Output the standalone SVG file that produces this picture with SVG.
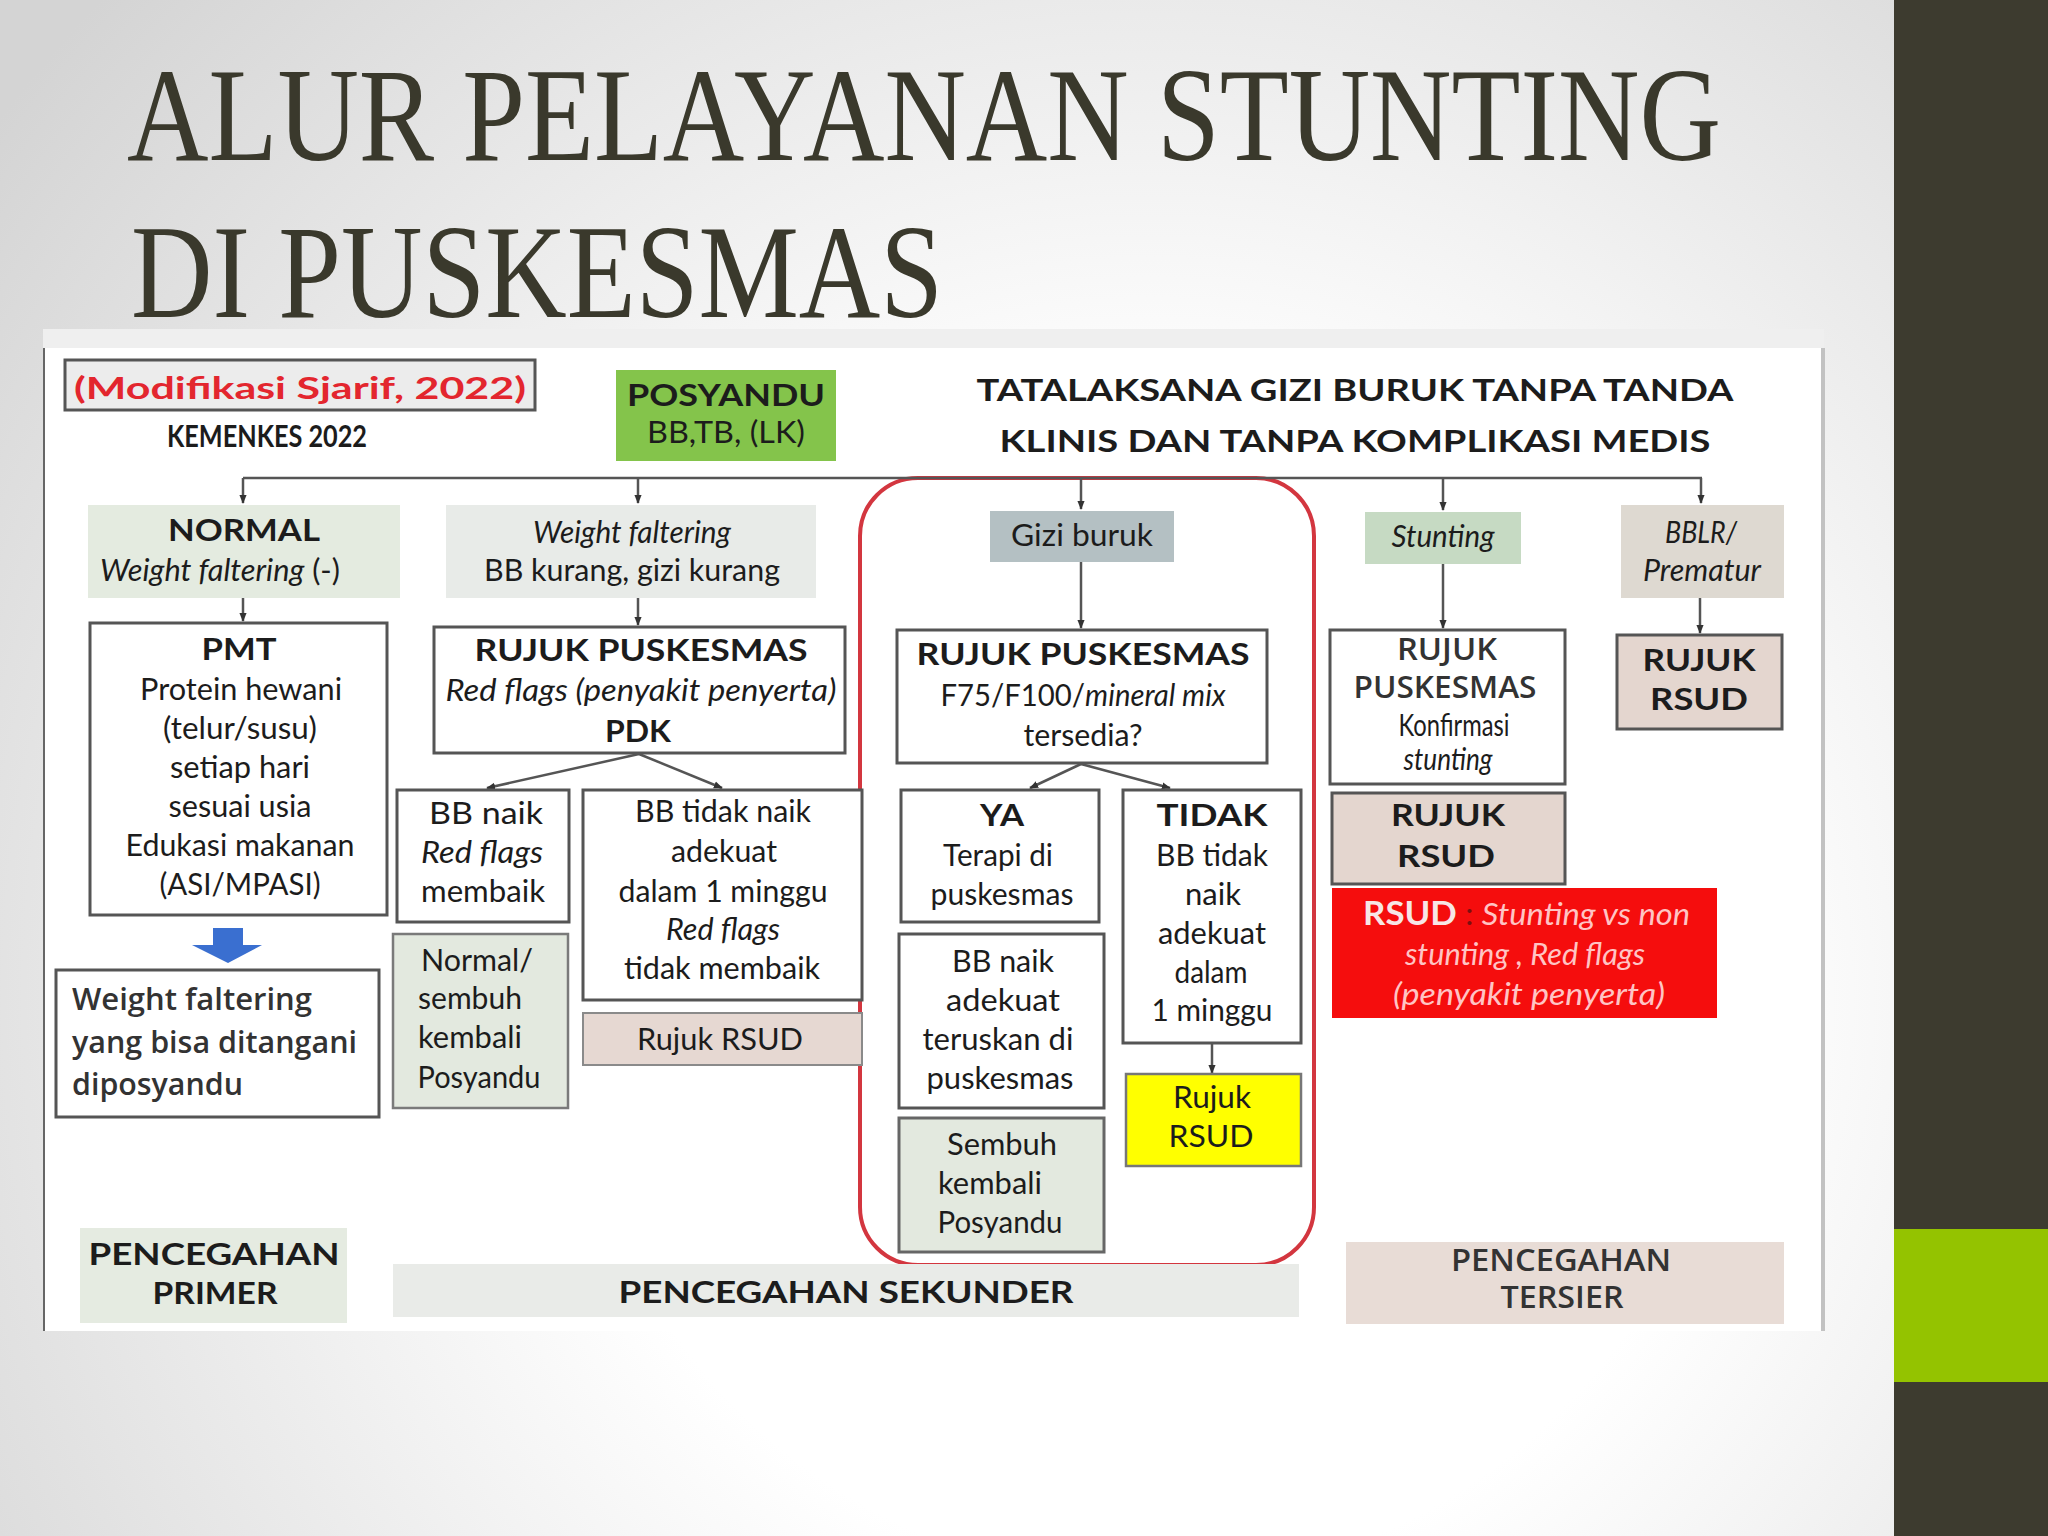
<svg xmlns="http://www.w3.org/2000/svg" width="2048" height="1536" viewBox="0 0 2048 1536">
<defs>
<radialGradient id="bg" cx="1150" cy="1000" r="1450" gradientUnits="userSpaceOnUse">
<stop offset="0.4" stop-color="#ffffff"/>
<stop offset="1" stop-color="#d4d4d4"/>
</radialGradient>
<marker id="ah" viewBox="0 0 10 10" refX="9" refY="5" markerWidth="9" markerHeight="9" markerUnits="userSpaceOnUse" orient="auto">
<path d="M0,1 L10,5 L0,9 z" fill="#333"/>
</marker>
<style>
.t{font-family:Lato,"Open Sans","Liberation Sans",sans-serif;font-size:30px;fill:#1c1c1c;text-anchor:middle}
.b{font-weight:700}
.i{font-style:italic}
.o{font-family:"Open Sans","Liberation Sans",sans-serif;font-weight:600;fill:#333}
.box{stroke:#555;stroke-width:3}
.wb{fill:#ffffff}
.conn{stroke:#555;stroke-width:2.5;fill:none}
.title{font-family:"Liberation Serif","Times New Roman",serif;font-size:133px;fill:#3a392c}
</style>
</defs>
<rect x="0" y="0" width="2048" height="1536" fill="url(#bg)"/>
<rect x="1894" y="0" width="154" height="1536" fill="#3d3b2f"/>
<rect x="1894" y="1229" width="154" height="153" fill="#94c300"/>

<g id="title">
<text class="title" x="127" y="160" textLength="1594" lengthAdjust="spacingAndGlyphs">ALUR PELAYANAN STUNTING</text>
<text class="title" x="131" y="317" textLength="812" lengthAdjust="spacingAndGlyphs">DI PUSKESMAS</text>
</g>

<g id="frame">
<rect x="43" y="329" width="1781" height="1002" fill="#ffffff"/>
<rect x="43" y="329" width="1781" height="19" fill="#efefef"/>
<line x1="44" y1="348" x2="44" y2="1331" stroke="#666" stroke-width="2"/>
<line x1="1823" y1="348" x2="1823" y2="1331" stroke="#c2c2c2" stroke-width="4"/>
</g>

<g id="red-frame">
<rect x="860" y="478" width="454" height="787" rx="58" ry="58" fill="none" stroke="#d3363f" stroke-width="4"/>
</g>

<g id="connectors">
<path class="conn" d="M243,478 H1702"/>
<path class="conn" d="M243,478 V503" marker-end="url(#ah)"/>
<path class="conn" d="M638,478 V503" marker-end="url(#ah)"/>
<path class="conn" d="M1081,478 V509" marker-end="url(#ah)"/>
<path class="conn" d="M1443,478 V510" marker-end="url(#ah)"/>
<path class="conn" d="M1701,478 V503" marker-end="url(#ah)"/>
<path class="conn" d="M243,598 V621" marker-end="url(#ah)"/>
<path class="conn" d="M638,598 V625" marker-end="url(#ah)"/>
<path class="conn" d="M639,754 L487,788" marker-end="url(#ah)"/>
<path class="conn" d="M639,754 L722,788" marker-end="url(#ah)"/>
<path class="conn" d="M1081,562 V628" marker-end="url(#ah)"/>
<path class="conn" d="M1081,764 L1030,788" marker-end="url(#ah)"/>
<path class="conn" d="M1081,764 L1170,788" marker-end="url(#ah)"/>
<path class="conn" d="M1443,564 V628" marker-end="url(#ah)"/>
<path class="conn" d="M1700,598 V633" marker-end="url(#ah)"/>
<path class="conn" d="M1212,1043 V1073" marker-end="url(#ah)"/>
<path d="M213,928 H243 V945 H262 L228,963 L192,945 H213 Z" fill="#3a6fd0"/>
</g>

<g id="modifikasi">
<rect class="box" x="65" y="360" width="470" height="50" fill="#ececec"/>
<text class="t b" x="300" y="399" font-size="40" textLength="452" lengthAdjust="spacingAndGlyphs" style="fill:#e3262e">(Modifikasi Sjarif, 2022)</text>
</g>
<g id="kemenkes">
<text class="t b" x="267" y="447" font-size="25" textLength="200" lengthAdjust="spacingAndGlyphs">KEMENKES 2022</text>
</g>
<g id="posyandu">
<rect x="616" y="370" width="220" height="91" fill="#84c44b"/>
<text class="t b" x="726" y="406" font-size="34" textLength="198" lengthAdjust="spacingAndGlyphs">POSYANDU</text>
<text class="t" x="726" y="443" font-size="29" textLength="158" lengthAdjust="spacingAndGlyphs">BB,TB, (LK)</text>
</g>
<g id="tatalaksana">
<text class="t b" x="1355" y="401" font-size="37" textLength="757" lengthAdjust="spacingAndGlyphs">TATALAKSANA GIZI BURUK TANPA TANDA</text>
<text class="t b" x="1355" y="452" font-size="37" textLength="711" lengthAdjust="spacingAndGlyphs">KLINIS DAN TANPA KOMPLIKASI MEDIS</text>
</g>

<g id="normal">
<rect x="88" y="505" width="312" height="93" fill="#e4ebe0"/>
<text class="t b" x="244" y="541" font-size="33" textLength="152" lengthAdjust="spacingAndGlyphs">NORMAL</text>
<text class="t" x="220" y="581" textLength="240" lengthAdjust="spacingAndGlyphs"><tspan class="i">Weight faltering</tspan> (-)</text>
</g>
<g id="weight-faltering">
<rect x="446" y="505" width="370" height="93" fill="#e8ebe8"/>
<text class="t i" x="632" y="543" textLength="198" lengthAdjust="spacingAndGlyphs">Weight faltering</text>
<text class="t" x="632" y="581" textLength="296" lengthAdjust="spacingAndGlyphs">BB kurang, gizi kurang</text>
</g>
<g id="gizi-buruk">
<rect x="990" y="511" width="184" height="51" fill="#b4c0c3"/>
<text class="t" x="1082" y="546" textLength="142" lengthAdjust="spacingAndGlyphs">Gizi buruk</text>
</g>
<g id="stunting">
<rect x="1365" y="512" width="156" height="52" fill="#c6dac3"/>
<text class="t i" x="1443" y="547" textLength="103" lengthAdjust="spacingAndGlyphs">Stunting</text>
</g>
<g id="bblr">
<rect x="1621" y="505" width="163" height="93" fill="#ded9d1"/>
<text class="t i" x="1701" y="543" textLength="72" lengthAdjust="spacingAndGlyphs">BBLR/</text>
<text class="t i" x="1702" y="581" textLength="118" lengthAdjust="spacingAndGlyphs">Prematur</text>
</g>

<g id="pmt">
<rect class="box wb" x="90" y="623" width="297" height="292"/>
<text class="t b" x="239" y="660" font-size="32" textLength="75" lengthAdjust="spacingAndGlyphs">PMT</text>
<text class="t" x="241" y="700" textLength="202" lengthAdjust="spacingAndGlyphs">Protein hewani</text>
<text class="t" x="240" y="739" textLength="154" lengthAdjust="spacingAndGlyphs">(telur/susu)</text>
<text class="t" x="240" y="778" textLength="140" lengthAdjust="spacingAndGlyphs">setiap hari</text>
<text class="t" x="240" y="817" textLength="143" lengthAdjust="spacingAndGlyphs">sesuai usia</text>
<text class="t" x="240" y="856" textLength="229" lengthAdjust="spacingAndGlyphs">Edukasi makanan</text>
<text class="t" x="240" y="895" textLength="161" lengthAdjust="spacingAndGlyphs">(ASI/MPASI)</text>
</g>
<g id="rujuk-puskesmas-1">
<rect class="box wb" x="434" y="627" width="411" height="126"/>
<text class="t b" x="641" y="661" font-size="32" textLength="333" lengthAdjust="spacingAndGlyphs">RUJUK PUSKESMAS</text>
<text class="t i" x="641" y="701" textLength="391" lengthAdjust="spacingAndGlyphs">Red flags (penyakit penyerta)</text>
<text class="t b" x="638" y="742" font-size="32" textLength="66" lengthAdjust="spacingAndGlyphs">PDK</text>
</g>
<g id="bb-naik">
<rect class="box wb" x="397" y="790" width="172" height="132"/>
<text class="t" x="486" y="824" textLength="114" lengthAdjust="spacingAndGlyphs">BB  naik</text>
<text class="t i" x="482" y="863" textLength="122" lengthAdjust="spacingAndGlyphs">Red  flags</text>
<text class="t" x="483" y="902" textLength="124" lengthAdjust="spacingAndGlyphs">membaik</text>
</g>
<g id="bb-tidak-naik">
<rect class="box wb" x="583" y="790" width="279" height="210"/>
<text class="t" x="723" y="822" textLength="176" lengthAdjust="spacingAndGlyphs">BB tidak naik</text>
<text class="t" x="724" y="862" textLength="106" lengthAdjust="spacingAndGlyphs">adekuat</text>
<text class="t" x="723" y="902" textLength="209" lengthAdjust="spacingAndGlyphs">dalam 1 minggu</text>
<text class="t i" x="723" y="940" textLength="114" lengthAdjust="spacingAndGlyphs">Red flags</text>
<text class="t" x="722" y="979" textLength="196" lengthAdjust="spacingAndGlyphs">tidak membaik</text>
</g>
<g id="rujuk-rsud-1">
<rect x="583" y="1013" width="279" height="52" fill="#e6d8d2" stroke="#8a8a8a" stroke-width="2"/>
<text class="t" x="720" y="1050" textLength="166" lengthAdjust="spacingAndGlyphs">Rujuk RSUD</text>
</g>
<g id="normal-sembuh">
<rect x="393" y="934" width="175" height="174" fill="#e3e9df" stroke="#7a7a7a" stroke-width="2.5"/>
<text class="t" x="477" y="971" textLength="112" lengthAdjust="spacingAndGlyphs">Normal/</text>
<text class="t" x="470" y="1009" textLength="104" lengthAdjust="spacingAndGlyphs">sembuh</text>
<text class="t" x="470" y="1048" textLength="104" lengthAdjust="spacingAndGlyphs">kembali</text>
<text class="t" x="479" y="1088" textLength="123" lengthAdjust="spacingAndGlyphs">Posyandu</text>
</g>
<g id="weight-faltering-posyandu">
<rect class="box wb" x="56" y="970" width="323" height="147"/>
<text class="t o" x="72" y="1010" font-size="27" style="text-anchor:start" textLength="240" lengthAdjust="spacingAndGlyphs">Weight faltering</text>
<text class="t o" x="72" y="1053" font-size="27" style="text-anchor:start" textLength="285" lengthAdjust="spacingAndGlyphs">yang bisa ditangani</text>
<text class="t o" x="72" y="1095" font-size="27" style="text-anchor:start" textLength="171" lengthAdjust="spacingAndGlyphs">diposyandu</text>
</g>

<g id="rujuk-puskesmas-2">
<rect class="box wb" x="897" y="630" width="370" height="133"/>
<text class="t b" x="1083" y="665" font-size="32" textLength="333" lengthAdjust="spacingAndGlyphs">RUJUK PUSKESMAS</text>
<text class="t" x="1083" y="706" textLength="285" lengthAdjust="spacingAndGlyphs">F75/F100/<tspan class="i">mineral mix</tspan></text>
<text class="t" x="1083" y="746" textLength="119" lengthAdjust="spacingAndGlyphs">tersedia?</text>
</g>
<g id="ya">
<rect class="box wb" x="901" y="790" width="198" height="132"/>
<text class="t b" x="1002" y="826" font-size="32" textLength="44" lengthAdjust="spacingAndGlyphs">YA</text>
<text class="t" x="998" y="866" textLength="110" lengthAdjust="spacingAndGlyphs">Terapi di</text>
<text class="t" x="1002" y="905" textLength="143" lengthAdjust="spacingAndGlyphs">puskesmas</text>
</g>
<g id="tidak">
<rect class="box wb" x="1123" y="790" width="178" height="253"/>
<text class="t b" x="1212" y="826" font-size="32" textLength="111" lengthAdjust="spacingAndGlyphs">TIDAK</text>
<text class="t" x="1212" y="866" textLength="112" lengthAdjust="spacingAndGlyphs">BB tidak</text>
<text class="t" x="1213" y="905" textLength="56" lengthAdjust="spacingAndGlyphs">naik</text>
<text class="t" x="1212" y="944" textLength="108" lengthAdjust="spacingAndGlyphs">adekuat</text>
<text class="t" x="1211" y="983" textLength="73" lengthAdjust="spacingAndGlyphs">dalam</text>
<text class="t" x="1212" y="1021" textLength="121" lengthAdjust="spacingAndGlyphs">1 minggu</text>
</g>
<g id="bb-naik-adekuat">
<rect class="box wb" x="899" y="934" width="205" height="174"/>
<text class="t" x="1003" y="972" textLength="102" lengthAdjust="spacingAndGlyphs">BB naik</text>
<text class="t" x="1003" y="1011" textLength="114" lengthAdjust="spacingAndGlyphs">adekuat</text>
<text class="t" x="998" y="1050" textLength="151" lengthAdjust="spacingAndGlyphs">teruskan di</text>
<text class="t" x="1000" y="1089" textLength="147" lengthAdjust="spacingAndGlyphs">puskesmas</text>
</g>
<g id="rujuk-rsud-yellow">
<rect x="1126" y="1074" width="175" height="92" fill="#ffff00" stroke="#777" stroke-width="2.5"/>
<text class="t" x="1212" y="1108" textLength="78" lengthAdjust="spacingAndGlyphs">Rujuk</text>
<text class="t" x="1211" y="1147" textLength="85" lengthAdjust="spacingAndGlyphs">RSUD</text>
</g>
<g id="sembuh-kembali">
<rect x="899" y="1118" width="205" height="134" fill="#e3e9df" stroke="#666" stroke-width="3"/>
<text class="t" x="1002" y="1155" textLength="110" lengthAdjust="spacingAndGlyphs">Sembuh</text>
<text class="t" x="990" y="1194" textLength="104" lengthAdjust="spacingAndGlyphs">kembali</text>
<text class="t" x="1000" y="1233" textLength="125" lengthAdjust="spacingAndGlyphs">Posyandu</text>
</g>

<g id="rujuk-puskesmas-3">
<rect class="box wb" x="1330" y="630" width="235" height="154"/>
<text class="t o" x="1447" y="660" font-size="25" textLength="100" lengthAdjust="spacingAndGlyphs">RUJUK</text>
<text class="t o" x="1445" y="698" font-size="25" textLength="183" lengthAdjust="spacingAndGlyphs">PUSKESMAS</text>
<text class="t" x="1454" y="736" font-size="26" textLength="111" lengthAdjust="spacingAndGlyphs">Konfirmasi</text>
<text class="t i" x="1448" y="770" font-size="26" textLength="89" lengthAdjust="spacingAndGlyphs">stunting</text>
</g>
<g id="rujuk-rsud-2">
<rect class="box" x="1617" y="635" width="165" height="94" fill="#e4d6cf"/>
<text class="t b" x="1699" y="671" font-size="34" textLength="113" lengthAdjust="spacingAndGlyphs">RUJUK</text>
<text class="t b" x="1699" y="710" font-size="34" textLength="98" lengthAdjust="spacingAndGlyphs">RSUD</text>
</g>
<g id="rujuk-rsud-3">
<rect class="box" x="1332" y="793" width="233" height="91" fill="#e4d6cf"/>
<text class="t b" x="1448" y="826" font-size="34" textLength="114" lengthAdjust="spacingAndGlyphs">RUJUK</text>
<text class="t b" x="1446" y="867" font-size="34" textLength="98" lengthAdjust="spacingAndGlyphs">RSUD</text>
</g>
<g id="rsud-red">
<rect x="1332" y="888" width="385" height="130" fill="#f50d0d"/>
<text class="t" x="1363" y="925" style="text-anchor:start" textLength="327" lengthAdjust="spacingAndGlyphs"><tspan class="b" style="fill:#f7e6e6" font-size="32">RSUD</tspan><tspan style="fill:#7a1010"> : </tspan><tspan class="i" style="fill:#ffc4c4">Stunting vs non</tspan></text>
<text class="t i" x="1525" y="965" style="fill:#ffc4c4" textLength="240" lengthAdjust="spacingAndGlyphs">stunting , Red flags</text>
<text class="t i" x="1529" y="1005" style="fill:#ffc4c4" textLength="272" lengthAdjust="spacingAndGlyphs">(penyakit penyerta)</text>
</g>

<g id="pencegahan-primer">
<rect x="80" y="1228" width="267" height="95" fill="#e5ebe1"/>
<text class="t b" x="214" y="1265" font-size="33" textLength="251" lengthAdjust="spacingAndGlyphs">PENCEGAHAN</text>
<text class="t b" x="215" y="1304" font-size="33" textLength="125" lengthAdjust="spacingAndGlyphs">PRIMER</text>
</g>
<g id="pencegahan-sekunder">
<rect x="393" y="1264" width="906" height="53" fill="#e9ebe8"/>
<text class="t b" x="846" y="1303" font-size="33" textLength="455" lengthAdjust="spacingAndGlyphs">PENCEGAHAN SEKUNDER</text>
</g>
<g id="pencegahan-tersier">
<rect x="1346" y="1242" width="438" height="82" fill="#e8dcd6"/>
<text class="t o" x="1561" y="1271" font-size="25" textLength="220" lengthAdjust="spacingAndGlyphs">PENCEGAHAN</text>
<text class="t o" x="1562" y="1308" font-size="25" textLength="123" lengthAdjust="spacingAndGlyphs">TERSIER</text>
</g>
</svg>
